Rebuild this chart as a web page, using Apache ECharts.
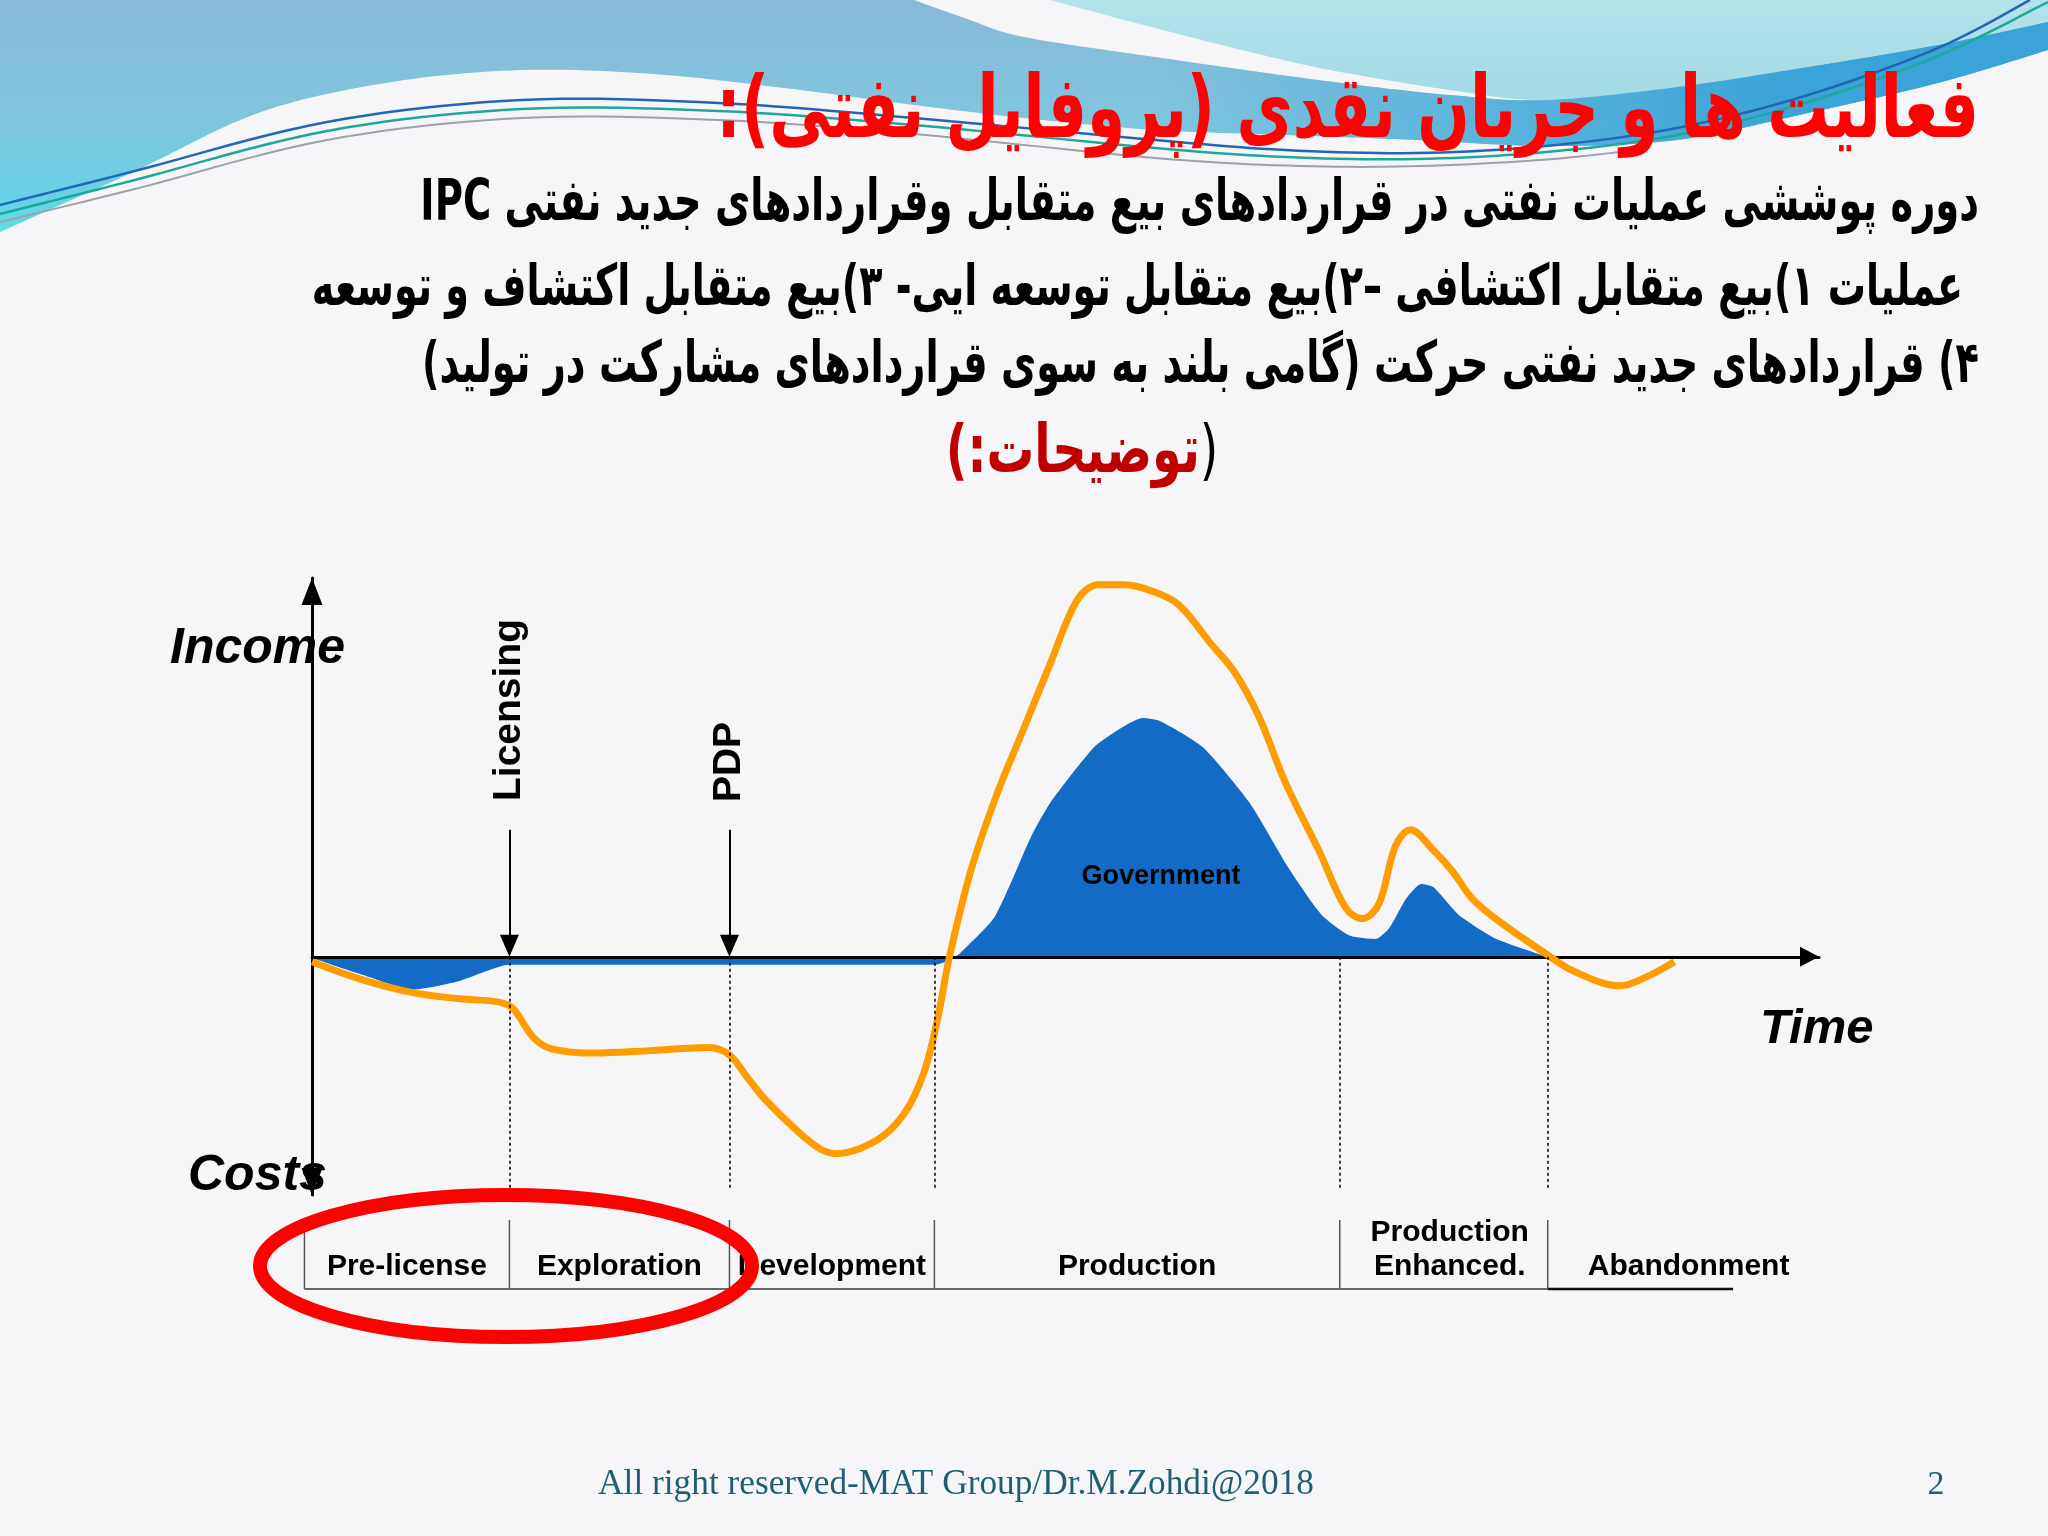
<!DOCTYPE html>
<html>
<head>
<meta charset="UTF-8">
<title>پروفایل نفتی</title>
<script src="https://cdn.jsdelivr.net/npm/echarts@6/dist/echarts.min.js"></script>
<style>
    html, body { margin: 0; padding: 0; background: #F6F6F8; }
    #main { width: 2048px; height: 1536px; }
</style>
</head>
<body>
<div id="main"></div>
<script type="text/javascript">
    // 时间轴 0..100，收入轴 -38.6..61.4（示意单位）
    var orangeT = [0, 3.2, 6.7, 9.8, 12.3, 13.3, 14.7, 15.9, 18.8, 22.4, 26.3, 27.7, 28.9, 30.1, 32.2, 33.7, 34.8, 37.5, 39.3, 40.6,
        41.5, 42.3, 43.7, 45.5, 47.2, 49.0, 50.8, 52.2, 53.9, 55.7, 57.5, 59.7, 61.2, 62.8, 64.6, 66.8, 68.6, 69.7, 70.8, 71.9,
        72.9, 74.4, 75.7, 77.0, 78.8, 82.0, 83.7, 86.8, 88.6, 90.4];
    var orangeV = [-0.8, -3.6, -5.8, -6.8, -7.3, -8.3, -13.1, -14.9, -15.6, -15.2, -14.7, -15.9, -19.6, -23.2, -28.2, -31.1, -31.9, -29.7, -25.4, -18.8,
        -10.2, 0, 13.8, 26.7, 36.8, 47.6, 57.9, 60.3, 60.3, 59.3, 57.1, 50.6, 46.2, 39.1, 28.2, 17.3, 7.9, 6.2, 8.6, 18.0,
        20.6, 17.3, 13.8, 9.4, 5.7, 0.3, -2.3, -4.7, -3.2, -0.8];
    var govT = [0, 3.2, 6.7, 9.8, 13.1, 41.3, 42.3, 43.0, 45.3, 47.7, 49.0, 51.9, 53.5, 55.1, 56.3, 59.1, 62.2, 64.8, 67.0, 68.9,
        70.6, 71.5, 72.6, 73.6, 74.4, 76.1, 78.6, 82.0];
    var govV = [-0.2, -2.8, -5.3, -3.9, -1.3, -1.3, -0.5, 0.6, 6.5, 19.4, 25.0, 34.0, 36.8, 38.7, 38.2, 34.0, 25.0, 14.4, 6.8, 3.4,
        2.9, 4.7, 9.4, 11.8, 11.3, 6.8, 2.9, 0];
    var phaseNames = ['Pre-license', 'Exploration', 'Development', 'Production', 'Production\nEnhanced.', 'Abandonment'];
    var phaseEdges = [-0.5, 13.1, 27.7, 41.3, 68.2, 82.0, 94.3];
    var milestones = ['Licensing', 'PDP'];
    var milestoneT = [13.1, 27.7];

    var titleText = 'فعالیت ها و جریان نقدی (پروفایل نفتی):';
    var bodyLines = [
        'دوره پوششی عملیات نفتی در قراردادهای بیع متقابل وقراردادهای جدید نفتی IPC',
        'عملیات ۱)بیع متقابل اکتشافی –۲)بیع متقابل توسعه ایی- ۳)بیع متقابل اکتشاف و توسعه',
        '۴) قراردادهای جدید نفتی حرکت (گامی بلند به سوی قراردادهای مشارکت در تولید)'
    ];
    var noteText = 'توضیحات:)';
    var footerText = 'All right reserved-MAT Group/Dr.M.Zohdi@2018';

    var Y_MIN = -38.6, Y_MAX = 61.4;
    var RLE = '\u202B', PDF = '\u202C';
    var FA = "'DejaVu Sans'";
    var EN = "'Liberation Sans', Arial, sans-serif";

    function pairs(xs, ys) {
        return xs.map(function (x, i) { return [x, ys[i]]; });
    }

    var chart = echarts.init(document.getElementById('main'));
    chart.setOption({
        backgroundColor: '#F6F6F8',
        animation: false,
        grid: { left: 312, right: 229, top: 578, bottom: 341 },
        xAxis: {
            type: 'value', min: 0, max: 100, z: 3,
            axisLine: {
                onZero: true,
                lineStyle: { color: '#000', width: 3 },
                symbol: ['none', 'triangle'], symbolSize: [20, 19], symbolOffset: [0, -9.5]
            },
            axisTick: { show: false }, axisLabel: { show: false }, splitLine: { show: false }
        },
        yAxis: {
            type: 'value', min: Y_MIN, max: Y_MAX, z: 3,
            axisLine: {
                show: true,
                lineStyle: { color: '#000', width: 3 },
                symbol: ['triangle', 'triangle'], symbolSize: [21, 27], symbolOffset: [13.5, -13.5]
            },
            axisTick: { show: false }, axisLabel: { show: false }, splitLine: { show: false }
        },
        series: [
            {
                name: 'Government',
                type: 'line',
                data: pairs(govT, govV),
                smooth: 0.2,
                symbol: 'none',
                lineStyle: { width: 0 },
                areaStyle: { color: '#136BC5', opacity: 1 },
                z: 2,
                markLine: {
                    silent: true,
                    symbol: ['none', 'none'],
                    label: { show: false },
                    lineStyle: { color: '#000', type: [3, 3], width: 1.5 },
                    data: phaseEdges.slice(1, 6).map(function (t) {
                        return [{ coord: [t, 0] }, { coord: [t, Y_MIN + 0.8] }];
                    })
                }
            },
            {
                name: 'Cash flow',
                type: 'line',
                data: pairs(orangeT, orangeV),
                smooth: 0.35,
                symbol: 'none',
                lineStyle: { color: '#FF9C00', width: 7 },
                z: 4,
                markLine: {
                    silent: true,
                    symbol: ['none', 'triangle'],
                    symbolSize: [19, 22],
                    label: { show: false },
                    lineStyle: { color: '#000', type: 'solid', width: 2 },
                    data: milestoneT.map(function (t) {
                        return [{ coord: [t, 20.6] }, { coord: [t, 1.8] }];
                    })
                }
            }
        ]
    });

    function px(t, v) {
        return chart.convertToPixel({ gridIndex: 0 }, [t, v]);
    }

    // 曲线采样
    function spline(pts, n) {
        var out = [];
        for (var i = 0; i < pts.length - 1; i++) {
            var p0 = pts[Math.max(i - 1, 0)], p1 = pts[i], p2 = pts[i + 1], p3 = pts[Math.min(i + 2, pts.length - 1)];
            for (var s = 0; s < n; s++) {
                var t = s / n, t2 = t * t, t3 = t2 * t;
                out.push([0, 1].map(function (k) {
                    return 0.5 * ((2 * p1[k]) + (-p0[k] + p2[k]) * t + (2 * p0[k] - 5 * p1[k] + 4 * p2[k] - p3[k]) * t2 + (-p0[k] + 3 * p1[k] - 3 * p2[k] + p3[k]) * t3);
                }));
            }
        }
        out.push(pts[pts.length - 1]);
        return out;
    }

    var mctx = document.createElement('canvas').getContext('2d');
    function fitSize(text, weight, family, width) {
        mctx.font = weight + ' 100px ' + family;
        return 100 * width / mctx.measureText(text).width;
    }

    // 页眉波浪
    var bandLower = [[0, 232], [131, 173], [261, 112], [392, 82], [522, 70], [653, 74], [784, 88], [914, 105], [1024, 118],
        [1155, 130], [1285, 135], [1416, 140], [1546, 146], [1677, 140], [1808, 113], [1938, 83], [2048, 50]];
    var swooshLow = [[914, 0], [970, 20], [1024, 37], [1155, 57], [1318, 80], [1450, 95], [1546, 100], [1677, 87],
        [1808, 67], [1938, 45], [2048, 22]];
    var swooshHigh = [[1050, 0], [1155, 28], [1250, 52], [1330, 70], [1450, 90], [1546, 100]];

    var lowS = spline(swooshLow, 12);
    var bandS = spline(bandLower, 12);
    var regionA = [[0, 0]].concat(lowS, bandS.slice().reverse());
    var aquaEdge = spline(swooshHigh.concat(swooshLow.slice(7)), 12);
    var regionC = aquaEdge.concat([[2048, 0]]);
    var bandTop = spline(swooshLow.slice(3), 12);
    var bandBot = spline(bandLower.slice(9), 12);
    var regionD = bandTop.concat(bandBot.slice().reverse());

    var LG = echarts.graphic.LinearGradient;
    var graphics = [
        { type: 'polygon', silent: true, z: 0, shape: { points: regionA },
            style: { fill: new LG(0, 0, 0, 230, [{ offset: 0, color: '#88B9D8' }, { offset: 0.55, color: '#7EC6DE' }, { offset: 1, color: '#5CD9E8' }], true) } },
        { type: 'polygon', silent: true, z: 1, shape: { points: regionD },
            style: { fill: new LG(1150, 0, 1800, 0, [{ offset: 0, color: 'rgba(58,163,216,0)' }, { offset: 1, color: 'rgba(58,163,216,1)' }], true) } },
        { type: 'polygon', silent: true, z: 0, shape: { points: regionC },
            style: { fill: new LG(0, 0, 0, 110, [{ offset: 0, color: '#B3E2EA' }, { offset: 1, color: '#A2DAE4' }], true) } },
        { type: 'polyline', silent: true, z: 2, shape: { points: spline([[0, 205], [131, 172], [327, 122], [522, 100], [718, 103], [914, 118], [1155, 140], [1285, 150], [1416, 153], [1546, 146], [1677, 128], [1808, 95], [1938, 48], [2030, 0]], 10) },
            style: { stroke: '#2366B3', lineWidth: 2.5, fill: null } },
        { type: 'polyline', silent: true, z: 2, shape: { points: spline([[0, 214], [131, 181], [327, 131], [522, 109], [718, 111], [914, 125], [1155, 148], [1285, 157], [1416, 159], [1546, 152], [1677, 135], [1808, 102], [1938, 56], [2048, 2]], 10) },
            style: { stroke: '#1FA79C', lineWidth: 2.5, fill: null } },
        { type: 'polyline', silent: true, z: 2, shape: { points: spline([[0, 222], [131, 190], [327, 140], [522, 118], [718, 120], [914, 134], [1155, 158], [1300, 166], [1420, 166], [1540, 160], [1620, 152]], 10) },
            style: { stroke: '#9AA3A8', lineWidth: 2, fill: null } }
    ];

    function faText(str, right, cy, width, weight, color, sy) {
        var size = fitSize(RLE + str + PDF, weight, FA, width);
        return { type: 'text', z: 10, x: right, y: cy, scaleY: sy, silent: true,
            style: { text: RLE + str + PDF, fill: color, font: weight + ' ' + size.toFixed(1) + 'px ' + FA,
                align: 'right', textAlign: 'right', verticalAlign: 'middle', textVerticalAlign: 'middle' } };
    }
    function enText(str, x, y, size, opts) {
        opts = opts || {};
        return { type: 'text', z: 10, x: x, y: y, rotation: opts.rotation || 0, silent: true,
            style: { text: str, fill: opts.color || '#000',
                font: (opts.italic ? 'italic ' : '') + (opts.weight || 'bold') + ' ' + size + 'px ' + (opts.family || EN),
                align: opts.align || 'center', textAlign: opts.align || 'center',
                verticalAlign: 'middle', textVerticalAlign: 'middle', lineHeight: opts.lineHeight || size } };
    }

    // 标题和说明
    graphics.push(faText(titleText, 1979, 115, 1263, 'bold', '#FF0000', 1.4));
    graphics.push(faText(bodyLines[0], 1979, 205, 1557, 'bold', '#000', 1.5));
    graphics.push(faText(bodyLines[1], 1963, 290, 1652, 'bold', '#000', 1.5));
    graphics.push(faText(bodyLines[2], 1979, 367, 1557, 'bold', '#000', 1.5));

    // 左括号随红字，右括号为黑色
    var noteSize = fitSize(RLE + noteText + PDF + ')', 'bold', FA, 276);
    graphics.push({ type: 'text', z: 10, x: 1082, y: 455, scaleY: 1.4, silent: true,
        style: { text: '{r|' + RLE + noteText + PDF + '}{p|)}', align: 'center', textAlign: 'center',
            verticalAlign: 'middle', textVerticalAlign: 'middle',
            rich: {
                p: { fill: '#000', fontFamily: FA, fontWeight: 'normal', fontSize: noteSize },
                r: { fill: '#C00000', fontFamily: FA, fontWeight: 'bold', fontSize: noteSize }
            } } });

    // 坐标说明
    graphics.push(enText('Income', 170, 649, 50, { italic: true, align: 'left' }));
    graphics.push(enText('Costs', 188, 1176, 50, { italic: true, align: 'left' }));
    graphics.push(enText('Time', 1760, 1029, 49, { italic: true, align: 'left' }));
    graphics.push(enText('Government', 1161, 877, 27));
    var labelCy = [710, 762];
    milestones.forEach(function (m, i) {
        graphics.push(enText(m, px(milestoneT[i], 0)[0], labelCy[i], 39, { rotation: Math.PI / 2 }));
    });

    // 阶段表
    var TOP = 1220, BOT = 1289, ROW = 1267;
    var edgeX = phaseEdges.map(function (t) { return px(t, 0)[0]; });
    for (var i = 0; i < 6; i++) {
        graphics.push({ type: 'line', z: 9, silent: true, shape: { x1: edgeX[i], y1: TOP, x2: edgeX[i], y2: BOT },
            style: { stroke: '#555', lineWidth: 1.5 } });
    }
    graphics.push({ type: 'line', z: 9, silent: true, shape: { x1: edgeX[0], y1: BOT, x2: edgeX[5], y2: BOT },
        style: { stroke: '#666', lineWidth: 2 } });
    graphics.push({ type: 'line', z: 9, silent: true, shape: { x1: edgeX[5], y1: BOT, x2: edgeX[6], y2: BOT },
        style: { stroke: '#111', lineWidth: 2.5 } });
    phaseNames.forEach(function (name, i) {
        var mid = (edgeX[i] + edgeX[i + 1]) / 2;
        if (i === 4) {
            graphics.push(enText(name, mid + 6, ROW - 17, 30, { lineHeight: 34 }));
        } else if (i === 5) {
            graphics.push(enText(name, edgeX[i] + 40, ROW, 30, { align: 'left' }));
        } else {
            graphics.push(enText(name, mid, ROW, 30));
        }
    });

    // 红色圈
    graphics.push({ type: 'ellipse', z: 20, silent: true, shape: { cx: 506, cy: 1266, rx: 246, ry: 71 },
        style: { fill: null, stroke: '#FF0000', lineWidth: 14 } });

    // 页脚
    var footSize = fitSize(footerText, 'normal', "'Liberation Serif'", 716);
    graphics.push(enText(footerText, 956, 1485, footSize.toFixed(1), { weight: 'normal', family: "'Liberation Serif', serif", color: '#1F5F74' }));
    graphics.push(enText('2', 1936, 1485, 34, { weight: 'normal', family: "'Liberation Serif', serif", color: '#1F5F74' }));

    chart.setOption({ graphic: { elements: graphics } });
</script>
</body>
</html>
